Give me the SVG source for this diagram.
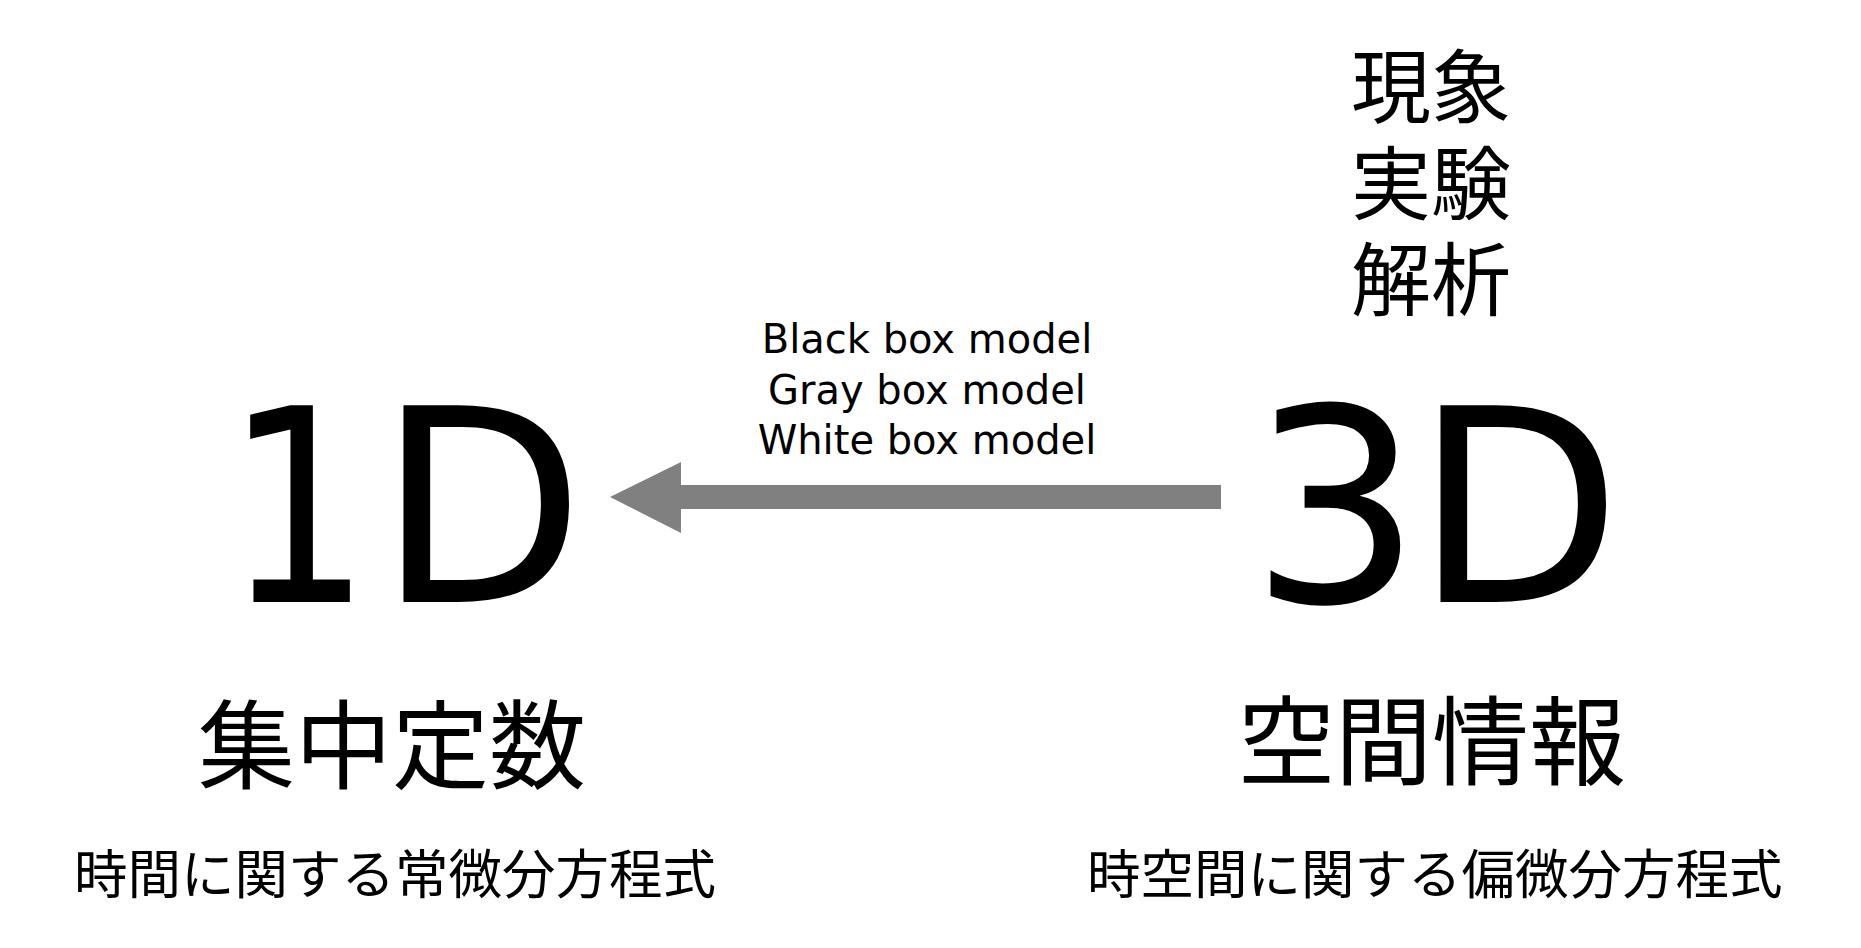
<svg xmlns="http://www.w3.org/2000/svg" width="1861" height="948" viewBox="0 0 1861 948">
<style>
.big{font-family:"DejaVu Sans","Liberation Sans",sans-serif;font-size:270px;fill:#000}
.lbl{font-family:"DejaVu Sans","Liberation Sans",sans-serif;font-size:40px;fill:#000;text-anchor:middle}
.jp{font-family:"Noto Sans CJK JP","Noto Sans CJK SC",sans-serif;fill:#000}
.h{font-size:97px}
.s{font-size:53.5px}
.t{font-size:80px}
.arrow{fill:#808080}
</style>
<rect width="1861" height="948" fill="#fff"/>
<g id="node-1d">
<text class="big" transform="translate(225,602) scale(0.85,1)" x="0" y="0">1</text>
<text class="big" x="377" y="602">D</text>
<text class="jp h" x="198" y="781">集中定数</text>
<text class="jp s" x="74" y="894">時間に関する常微分方程式</text>
</g>
<g id="node-3d">
<text class="big" y="602"><tspan x="1250">3</tspan><tspan x="1414">D</tspan></text>
<text class="jp h" x="1238" y="777">空間情報</text>
<text class="jp s" x="1087" y="894">時空間に関する偏微分方程式</text>
</g>
<g id="node-methods">
<text class="jp t"><tspan x="1351" y="116">現象</tspan><tspan x="1351" y="213">実験</tspan><tspan x="1351" y="309">解析</tspan></text>
</g>
<g id="connectors">
<polygon class="arrow" points="1221,485 681,485 681,462 610,497 681,533 681,509 1221,509"/>
<g id="connector-label">
<text class="lbl" x="927" y="353">Black box model</text>
<text class="lbl" x="927" y="404">Gray box model</text>
<text class="lbl" x="927" y="454">White box model</text>
</g>
</g>
</svg>
